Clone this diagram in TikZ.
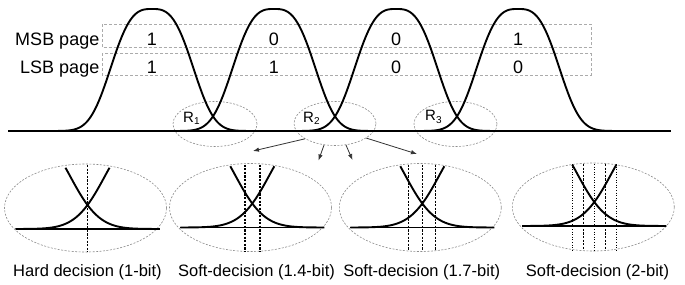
\documentclass[tikz,border=0pt]{standalone}
\usepackage{fontspec}
\setmainfont{Liberation Sans}
\usetikzlibrary{shapes.geometric,arrows.meta}
\newcommand\crosspair[2]{%
  \draw[axisline] (#1-72,#2) -- (#1+72,#2);
  \draw[bump] plot[domain=-72:22, samples=60, smooth] ({#1+\x},{#2-24*exp(0.056*\x-0.000617*\x*\x)});
  \draw[bump] plot[domain=-72:22, samples=60, smooth] ({#1-\x},{#2-24*exp(0.056*\x-0.000617*\x*\x)});
}
\begin{document}
\begin{tikzpicture}[x=1pt,y=-1pt,
  bump/.style={line width=1.9pt, black},
  axisline/.style={line width=1.9pt, black},
  rowbox/.style={draw=black!33, dash pattern=on 3pt off 2pt, line width=0.8pt},
  zone/.style={ellipse, draw=black!45, dash pattern=on 2pt off 1.5pt, line width=0.6pt, inner sep=0pt},
  detail/.style={zone, minimum width=162pt, minimum height=88pt},
  lbl/.style={font=\fontsize{18}{20}\selectfont, inner sep=0pt},
  bottomtext/.style={font=\fontsize{16.5}{18}\selectfont, inner sep=0pt, anchor=base},
  rl/.style={font=\fontsize{15}{16}\selectfont, inner sep=0pt, anchor=base west},
  thr/.style={line width=1.5pt, dash pattern=on 2.2pt off 1.4pt},
  thrdot/.style={line width=1pt, dash pattern=on 1pt off 1.6pt},
  link/.style={draw=black!80, line width=0.8pt, -{Latex[length=6pt,width=4.5pt]}},
]
\useasboundingbox[fill=white] (0,0) rectangle (685,284);

% page rows
\draw[rowbox] (102,24.3) rectangle (591,47.7);
\draw[rowbox] (102,53.3) rectangle (591,75);
\node[lbl, anchor=base east] (msb) at (99.5,45) {MSB page};
\node[lbl, anchor=base east] (lsb) at (99.5,73.3) {LSB page};
\node[lbl, anchor=base] (m1) at (152,45) {1};
\node[lbl, anchor=base] (m2) at (274,45) {0};
\node[lbl, anchor=base] (m3) at (396,45) {0};
\node[lbl, anchor=base] (m4) at (518,45) {1};
\node[lbl, anchor=base] (l1) at (152,73.3) {1};
\node[lbl, anchor=base] (l2) at (274,73.3) {1};
\node[lbl, anchor=base] (l3) at (396,73.3) {0};
\node[lbl, anchor=base] (l4) at (518,73.3) {0};

% read zones
\node[zone, minimum width=84pt, minimum height=45pt] (r1) at (215,124) {};
\node[zone, minimum width=82pt, minimum height=44pt] (r2) at (335,123.5) {};
\node[zone, minimum width=83pt, minimum height=45pt] (r3) at (455.5,124) {};
\node[rl] (t1) at (183,122.3) {R\raisebox{-2.5pt}{\fontsize{10}{10}\selectfont 1}};
\node[rl] (t2) at (303,122.3) {R\raisebox{-2.5pt}{\fontsize{10}{10}\selectfont 2}};
\node[rl] (t3) at (425,120.7) {R\raisebox{-2.5pt}{\fontsize{10}{10}\selectfont 3}};

% distributions
\draw[axisline] (8,131) -- (671,131);
\foreach \c in {152,274,396,518}
  \draw[bump] plot[domain=-100:100, samples=121, smooth] ({\c+\x},{131-122*exp(-1*pow(abs(\x)/47.5,3))});

% arrows
\coordinate (e1) at (253,151);
\coordinate (e2) at (318.5,160.5);
\coordinate (e3) at (352.5,160);
\coordinate (e4) at (417,154);
\draw[link] (r2.207) -- (e1);
\draw[link] (r2.243) -- (e2);
\draw[link] (r2.297) -- (e3);
\draw[link] (r2.335) -- (e4);

% detail views
\node[detail] (d1) at (85.5,208) {};
\node[detail] (d2) at (250.5,207.5) {};
\node[detail] (d3) at (420.3,207.5) {};
\node[detail] (d4) at (593.3,207) {};
\crosspair{87.5}{229}
\crosspair{252.3}{227.5}
\crosspair{422.3}{227.5}
\crosspair{594.3}{226}

\draw[thr] (87.5,165) -- (87.5,251.5);
\draw[thr] (244.8,164.5) -- (244.8,251);
\draw[thr] (259.8,164.5) -- (259.8,251);
\draw[thr] (408.3,164.5) -- (408.3,250.5);
\draw[thr] (422.3,164.5) -- (422.3,250.5);
\draw[thr] (435.5,164.5) -- (435.5,250.5);
\draw[thrdot] (572.3,164) -- (572.3,250);
\draw[thr] (583.3,164) -- (583.3,250);
\draw[thrdot] (594.3,164) -- (594.3,250);
\draw[thr] (605.5,164) -- (605.5,250);
\draw[thrdot] (616.5,164) -- (616.5,250);

% captions
\node[bottomtext] (c1) at (87.5,276.7) {Hard decision (1-bit)};
\node[bottomtext] (c2) at (256.5,276.7) {Soft-decision (1.4-bit)};
\node[bottomtext] (c3) at (421.7,276.7) {Soft-decision (1.7-bit)};
\node[bottomtext] (c4) at (597.5,276.7) {Soft-decision (2-bit)};
\end{tikzpicture}
\end{document}
